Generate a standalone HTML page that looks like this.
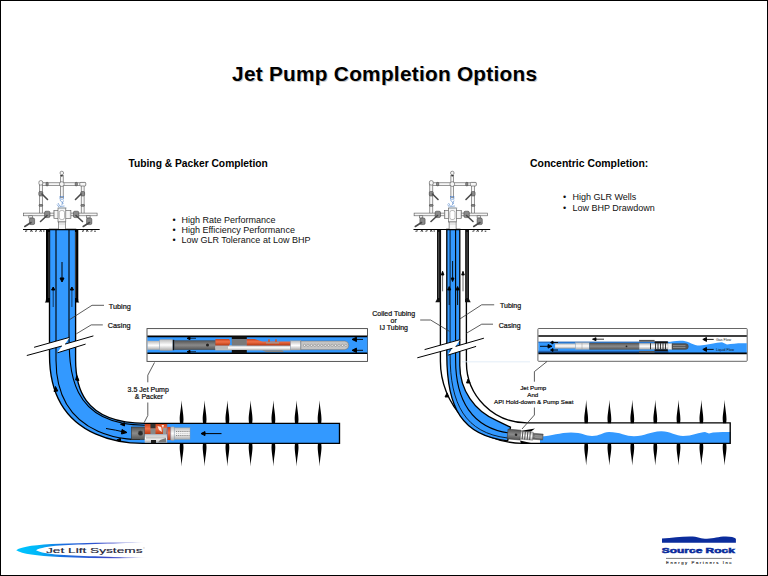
<!DOCTYPE html>
<html><head><meta charset="utf-8">
<style>
html,body{margin:0;padding:0;background:#fff;}
svg{display:block;}
text{font-family:"Liberation Sans",sans-serif;}
</style></head>
<body>
<svg width="768" height="576" viewBox="0 0 768 576">

<defs>
<linearGradient id="pipeV" x1="0" y1="0" x2="1" y2="0"><stop offset="0" stop-color="#bbb"/><stop offset="0.5" stop-color="#fff"/><stop offset="1" stop-color="#aaa"/></linearGradient>
<linearGradient id="pipeH" x1="0" y1="0" x2="0" y2="1"><stop offset="0" stop-color="#bbb"/><stop offset="0.5" stop-color="#fff"/><stop offset="1" stop-color="#aaa"/></linearGradient>
<linearGradient id="darkH" x1="0" y1="0" x2="0" y2="1"><stop offset="0" stop-color="#555"/><stop offset="0.5" stop-color="#8a8a8a"/><stop offset="1" stop-color="#555"/></linearGradient>
<linearGradient id="oraH" x1="0" y1="0" x2="0" y2="1"><stop offset="0" stop-color="#c8401a"/><stop offset="0.45" stop-color="#f07048"/><stop offset="1" stop-color="#b83810"/></linearGradient>
<g id="wellhead">
 <g fill="#f6f6f6" stroke="#555" stroke-width="0.6">
  <rect x="60.4" y="175.5" width="2.8" height="22"/>
  <circle cx="61.8" cy="173" r="1.8"/>
  <rect x="39.5" y="182.8" width="46" height="2.6"/>
  <circle cx="61.8" cy="184.1" r="2.4"/>
  <rect x="39.3" y="183" width="3" height="30.5"/>
  <rect x="81.2" y="184" width="2.9" height="29.5"/>
  <rect x="79.8" y="182.4" width="6" height="3.6" rx="1"/>
  <rect x="38.9" y="180.6" width="3.8" height="4.5" rx="1.6"/>
  <rect x="23.6" y="213.1" width="73.5" height="2.7"/>
  <rect x="53.9" y="210.6" width="17" height="7.8"/>
  <rect x="58" y="208" width="7.8" height="14"/>
  <rect x="58.6" y="222" width="7" height="7.3"/>
  <rect x="28.8" y="215.8" width="3.5" height="2.2"/>
  <rect x="86.6" y="215.8" width="3.5" height="2.2"/>
 </g>
 <path d="M54.5 211 v7 M70.3 211 v7 M58.6 224 h7" stroke="#999" stroke-width="0.4"/>
 <rect x="59.3" y="210.5" width="5.2" height="9" rx="2" fill="#fff" stroke="#777" stroke-width="0.5"/>
 <path d="M61 175.8 h1.6" stroke="#222" stroke-width="1.2"/>
 <g fill="#8a8a8a" stroke="#333" stroke-width="0.5">
  <rect x="46" y="182.4" width="2.2" height="3.4" rx="0.7"/>
  <rect x="75.2" y="182.4" width="2.2" height="3.4" rx="0.7"/>
  <rect x="38.8" y="191.5" width="4" height="4.5" rx="1.2"/>
  <rect x="80.8" y="191.5" width="3.8" height="4.5" rx="1.2"/>
  <rect x="39" y="204.5" width="3.6" height="1.8" rx="0.6"/>
  <rect x="80.9" y="204.5" width="3.5" height="1.8" rx="0.6"/>
  <rect x="44.6" y="211.2" width="5.4" height="6.4" rx="1.4"/>
  <rect x="73.4" y="211.2" width="5.4" height="6.4" rx="1.4"/>
  <rect x="29.4" y="218" width="5.2" height="6.6" rx="1.4"/>
  <rect x="86.6" y="218" width="5.2" height="6.6" rx="1.4"/>
 </g>
 <g stroke="#4a4a4a" stroke-width="1.6" stroke-linecap="round">
  <line x1="42" y1="194" x2="47.5" y2="199.5"/>
  <line x1="81" y1="194" x2="75.5" y2="199.5"/>
  <line x1="47" y1="215.5" x2="40.5" y2="221.5"/>
  <line x1="76" y1="215.5" x2="82.5" y2="221.5"/>
  <line x1="31" y1="222.5" x2="24.8" y2="226.5"/>
  <line x1="89.5" y1="222.5" x2="83.2" y2="226.5"/>
 </g>
 <g fill="none" stroke="#4a7fc8" stroke-width="0.6">
  <rect x="60" y="196.5" width="3.4" height="2.6"/>
  <path d="M60 200 L63 203.5 L61 205.5 M63.5 200.5 L62 204 M58 203 L60 206.5 L64.5 206 M57 204.5 L59 207.2"/>
 </g>
 <line x1="58.5" y1="208" x2="67" y2="208" stroke="#8ab" stroke-width="0.4"/>
 <line x1="23" y1="229.5" x2="99.7" y2="229.5" stroke="#000" stroke-width="1"/>
 <g stroke="#222" stroke-width="1">
  <path d="M25 231.3 l2.2 -0.5 M30.2 231.3 l1 -0.8 l1.4 0.8 M35 231.3 l2 -0.6 M39.5 231.3 l1.2 -0.8 l1.2 0.8 M43 231 h1.5"/>
  <path d="M82 231.3 l2 -0.6 M86 231.3 l1.2 -0.8 l1.2 0.8 M90.5 231.2 l2 -0.5 M94.2 231.2 h1.6"/>
 </g>
</g>
</defs>
<rect x="0.5" y="0.5" width="767" height="575" fill="#fff" stroke="#000" stroke-width="1"/>
<!-- title -->
<text x="233.1" y="81.8" font-size="20.8" font-weight="bold" fill="#999" opacity="0.55" textLength="305" lengthAdjust="spacing">Jet Pump Completion Options</text>
<text x="232.1" y="80.8" font-size="20.8" font-weight="bold" fill="#000" textLength="305" lengthAdjust="spacing">Jet Pump Completion Options</text>

<text x="128.5" y="167" font-size="10.25" font-weight="bold">Tubing &amp; Packer Completion</text>
<g font-size="9" fill="#111">
<text x="172.5" y="222.5">•</text><text x="181.5" y="222.5">High Rate Performance</text>
<text x="172.5" y="233">•</text><text x="181.5" y="233">High Efficiency Performance</text>
<text x="172.5" y="243.4">•</text><text x="181.5" y="243.4">Low GLR Tolerance at Low BHP</text>
</g>
<text x="530" y="166.7" font-size="10.45" font-weight="bold">Concentric Completion:</text>
<g font-size="9" fill="#111">
<text x="563" y="200.4">•</text><text x="572.5" y="200.4">High GLR Wells</text>
<text x="563" y="210.8">•</text><text x="572.5" y="210.8">Low BHP Drawdown</text>
</g>

<!-- LEFT WELL -->
<g id="leftwell">
<!-- blue casing pipe -->
<path d="M49.5 229.5 V355 C49.5 451 146 443.3 150 443.3 H339.5 V423.3 H145 C81 423.3 75.6 384 75.6 360 V229.5 Z" fill="#3399ff" stroke="#000" stroke-width="1.35"/>
<!-- tubing lines -->
<path d="M56 229.5 V360 C56 444 140 439.5 140 439.5" fill="none" stroke="#000" stroke-width="1.1"/>
<path d="M69 229.5 V330 C69 370 69 425.2 145 425.2" fill="none" stroke="#000" stroke-width="1.1"/>
<!-- surface casing thick walls -->
<rect x="46" y="229.5" width="3" height="71" fill="#000"/>
<rect x="75.8" y="229.5" width="2.5" height="71" fill="#000"/>
<rect x="48.6" y="232" width="0.7" height="66" fill="#666"/>
<rect x="75.4" y="232" width="0.7" height="66" fill="#666"/>
<path d="M45.9 299.5 Q45.9 302.6 43.9 302.6 L49.5 302.6 V299.5 Z" fill="#000"/>
<path d="M78.2 299.5 Q78.2 302.6 80.2 302.6 L75 302.6 V299.5 Z" fill="#000"/>
<!-- arrows -->
<g stroke="#000" stroke-width="1" fill="#000">
<line x1="62" y1="262" x2="62" y2="279"/><path d="M60 278 L64 278 L62 282 Z"/>
<line x1="53.2" y1="289" x2="53.2" y2="307" stroke="#123a66"/><path d="M51.6 290 L54.8 290 L53.2 287 Z"/>
<line x1="71.9" y1="289" x2="71.9" y2="307" stroke="#123a66"/><path d="M70.3 290 L73.5 290 L71.9 287 Z"/>
<path d="M106 428.5 Q116 430 124 432" fill="none"/><path d="M122 429.5 L127 432.5 L121.5 434 Z"/>
<path d="M124.5 422.6 L120.5 424.3 L124.5 426 Z"/><path d="M120.5 438.3 L116.8 440 L120.5 441.5 Z"/><path d="M76.8 375.5 L75.6 380 L79 380.5 Z"/><path d="M55.5 386.5 L54 391.5 L57.8 391 Z"/>
<line x1="204" y1="433.6" x2="221.5" y2="433.6"/><path d="M205 431.6 L205 435.6 L201 433.6 Z"/>
</g>
<!-- break symbol -->
<path d="M34.1 347.3 L69.7 337.3 L65.1 344.1 L93.4 335.9 L85.6 344.1 L57.4 352.8 L61.9 346 L26.8 355.5 Z" fill="#fff" stroke="none"/>
<g stroke="#000" stroke-width="1" fill="none">
<line x1="34.1" y1="347.3" x2="69.7" y2="337.3"/>
<line x1="65.1" y1="344.1" x2="93.4" y2="335.9"/>
<line x1="85.6" y1="344.1" x2="57.4" y2="352.8"/>
<line x1="61.9" y1="346" x2="26.8" y2="355.5"/>
</g>
</g>
<use href="#wellhead"/>
<!-- left spikes -->
<g fill="#000"><path d="M181.6 400.3 C182.1 409 183.5 414 183.5 419.5 L183.2 423.5 L180.0 423.5 L179.7 419.5 C179.7 414 181.1 409 181.6 400.3 Z"/><path d="M181.6 466.5 C182.1 457.5 183.5 452.5 183.5 447 L183.2 443.0 L180.0 443.0 L179.7 447 C179.7 452.5 181.1 457.5 181.6 466.5 Z"/><path d="M204.6 400.3 C205.1 409 206.5 414 206.5 419.5 L206.2 423.5 L203.0 423.5 L202.7 419.5 C202.7 414 204.1 409 204.6 400.3 Z"/><path d="M204.6 466.5 C205.1 457.5 206.5 452.5 206.5 447 L206.2 443.0 L203.0 443.0 L202.7 447 C202.7 452.5 204.1 457.5 204.6 466.5 Z"/><path d="M227.4 400.3 C227.9 409 229.3 414 229.3 419.5 L229.0 423.5 L225.8 423.5 L225.5 419.5 C225.5 414 226.9 409 227.4 400.3 Z"/><path d="M227.4 466.5 C227.9 457.5 229.3 452.5 229.3 447 L229.0 443.0 L225.8 443.0 L225.5 447 C225.5 452.5 226.9 457.5 227.4 466.5 Z"/><path d="M250.6 400.3 C251.1 409 252.5 414 252.5 419.5 L252.2 423.5 L249.0 423.5 L248.7 419.5 C248.7 414 250.1 409 250.6 400.3 Z"/><path d="M250.6 466.5 C251.1 457.5 252.5 452.5 252.5 447 L252.2 443.0 L249.0 443.0 L248.7 447 C248.7 452.5 250.1 457.5 250.6 466.5 Z"/><path d="M273.4 400.3 C273.9 409 275.3 414 275.3 419.5 L275.0 423.5 L271.8 423.5 L271.5 419.5 C271.5 414 272.9 409 273.4 400.3 Z"/><path d="M273.4 466.5 C273.9 457.5 275.3 452.5 275.3 447 L275.0 443.0 L271.8 443.0 L271.5 447 C271.5 452.5 272.9 457.5 273.4 466.5 Z"/><path d="M296.6 400.3 C297.1 409 298.5 414 298.5 419.5 L298.2 423.5 L295.0 423.5 L294.7 419.5 C294.7 414 296.1 409 296.6 400.3 Z"/><path d="M296.6 466.5 C297.1 457.5 298.5 452.5 298.5 447 L298.2 443.0 L295.0 443.0 L294.7 447 C294.7 452.5 296.1 457.5 296.6 466.5 Z"/><path d="M319.6 400.3 C320.1 409 321.5 414 321.5 419.5 L321.2 423.5 L318.0 423.5 L317.7 419.5 C317.7 414 319.1 409 319.6 400.3 Z"/><path d="M319.6 466.5 C320.1 457.5 321.5 452.5 321.5 447 L321.2 443.0 L318.0 443.0 L317.7 447 C317.7 452.5 319.1 457.5 319.6 466.5 Z"/></g>
<!-- left pump in hole -->
<g>
 <rect x="131.3" y="427" width="13.4" height="12.6" fill="url(#darkH)" stroke="#333" stroke-width="0.6"/>
 <circle cx="140.5" cy="433.2" r="2.4" fill="#2a2a2a" stroke="#555" stroke-width="0.5"/>
 <rect x="144.7" y="424" width="22.5" height="10.2" fill="url(#oraH)"/>
 <rect x="144.7" y="434.2" width="22.5" height="8.6" fill="url(#pipeH)"/>
 <rect x="146" y="436.5" width="20" height="2.2" fill="#c8c8c8"/>
 <rect x="150.5" y="424" width="5" height="4.5" fill="#333"/>
 <rect x="150.5" y="428.5" width="5" height="5.5" fill="#888"/>
 <rect x="151" y="440" width="5" height="3" fill="#1a1a1a"/>
 <path d="M157.5 426 L161 427 L162 432 L159 430 Z M161.5 425 L164 425 L163 428 Z" fill="#fff" opacity="0.85"/>
 <rect x="163" y="428" width="3.5" height="6" fill="#999"/>
 <path d="M160 440 L166 438 L166 442.5 L158 442.5 Z" fill="#777"/>
 <rect x="167.2" y="427" width="3.5" height="13" fill="url(#oraH)"/>
 <line x1="167.2" y1="424" x2="167.2" y2="443" stroke="#3a7fd0" stroke-width="0.4"/>
 <rect x="170.8" y="426.7" width="3.5" height="13.7" rx="1" fill="url(#pipeH)" stroke="#999" stroke-width="0.4"/>
 <rect x="174.3" y="427.8" width="15.7" height="11.6" fill="url(#pipeH)" stroke="#999" stroke-width="0.4"/>
 <path d="M176 431.5 h13.5 M176 435.5 h13.5" stroke="#888" stroke-width="1.1" stroke-dasharray="1.2 0.9"/>
 <path d="M176 433.5 h13.5" stroke="#aaa" stroke-width="0.7" stroke-dasharray="1.2 0.9"/>
</g>
<!-- left inset box -->
<g>
 <rect x="147" y="328.6" width="220.5" height="32.8" fill="#fff" stroke="#444" stroke-width="0.9"/>
 <rect x="147.4" y="336.4" width="220" height="16.8" fill="#3399ff"/>
 <line x1="147.4" y1="336.4" x2="367.2" y2="336.4" stroke="#000" stroke-width="1.6"/>
 <line x1="147.4" y1="353.3" x2="367.2" y2="353.3" stroke="#000" stroke-width="1.6"/>
 <rect x="147.5" y="341" width="12" height="8.7" fill="url(#pipeH)" stroke="#aaa" stroke-width="0.4"/>
 <rect x="159.5" y="339.5" width="13.3" height="11" rx="1" fill="url(#pipeH)" stroke="#999" stroke-width="0.4"/>
 <rect x="172.8" y="339.8" width="1.4" height="10.4" fill="#111"/>
 <rect x="174.2" y="340.6" width="41.6" height="9.1" fill="url(#darkH)" stroke="#444" stroke-width="0.4"/>
 <circle cx="207.5" cy="345.1" r="1.5" fill="#222"/>
 <rect x="215.4" y="345.3" width="75.2" height="4.9" fill="url(#pipeH)" stroke="#aaa" stroke-width="0.3"/>
 <rect x="216" y="346" width="12" height="3.6" fill="#bbb"/>
 <path d="M215.4 338.9 H229 Q231.5 342 229 345.4 H215.4 Z" fill="url(#oraH)"/>
 <rect x="231.8" y="336.4" width="15" height="2.8" fill="#111"/>
 <rect x="231.8" y="339.1" width="15" height="6.3" fill="#7a7a7a"/>
 <rect x="231.8" y="350" width="15" height="3.2" fill="#111"/>
 <path d="M246.7 338.9 L254.5 338.9 L262.3 341.5 L290.6 341.5 L290.6 345.4 L246.7 345.4 Z" fill="url(#oraH)"/>
 <rect x="268" y="339.3" width="2" height="4.5" fill="#c86040"/>
 <rect x="275" y="339.3" width="2" height="4.5" fill="#c86040"/>
 <rect x="266" y="342" width="13" height="1.6" fill="#999" opacity="0.8"/>
 <path d="M262 350.3 H282 L284 352 H266 Z" fill="#888"/>
 <rect x="290.6" y="340.8" width="10.2" height="9.2" fill="url(#pipeH)" stroke="#999" stroke-width="0.4"/>
 <path d="M300.8 341 H345 A4.4 4.4 0 0 1 345 349.7 H300.8 Z" fill="#c4c4c4" stroke="#666" stroke-width="0.5"/>
 <g fill="#fff" stroke="#666" stroke-width="0.45"><circle cx="304.50" cy="345.3" r="1.05"/><circle cx="307.95" cy="345.3" r="1.05"/><circle cx="311.40" cy="345.3" r="1.05"/><circle cx="314.85" cy="345.3" r="1.05"/><circle cx="318.30" cy="345.3" r="1.05"/><circle cx="321.75" cy="345.3" r="1.05"/><circle cx="325.20" cy="345.3" r="1.05"/><circle cx="328.65" cy="345.3" r="1.05"/><circle cx="332.10" cy="345.3" r="1.05"/><circle cx="335.55" cy="345.3" r="1.05"/><circle cx="339.00" cy="345.3" r="1.05"/><circle cx="342.45" cy="345.3" r="1.05"/><circle cx="345.90" cy="345.3" r="1.05"/></g>
 <g stroke="#000" stroke-width="0.9" fill="#000">
  <line x1="355" y1="339.4" x2="363" y2="339.4"/><path d="M356.5 337.2 L356.5 341.6 L352 339.4 Z"/>
  <line x1="355" y1="350.3" x2="363" y2="350.3"/><path d="M356.5 348.1 L356.5 352.5 L352 350.3 Z"/>
  <line x1="189" y1="338.3" x2="196" y2="338.3" stroke-width="0.7"/><path d="M190 336.9 L190 339.7 L187 338.3 Z"/>
  <line x1="189" y1="351.7" x2="196" y2="351.7" stroke-width="0.7"/><path d="M190 350.3 L190 353.1 L187 351.7 Z"/>
 </g>
</g>
<!-- left labels and leaders -->
<g stroke="#333" stroke-width="0.8" fill="none">
 <polyline points="69,320 92,305.3 104,305.3"/>
 <polyline points="76.4,333.8 91.2,324.9 102.8,324.9"/>
 <polyline points="144.1,422.7 147.8,415.5 147.8,402.5"/>
 <polyline points="147.8,382.3 147.8,375.2 154.5,362.5"/>
</g>
<g font-size="7" fill="#111" stroke="#111" stroke-width="0.22">
 <text x="108.8" y="308.9" font-size="7.3">Tubing</text>
 <text x="107.8" y="328.1" font-size="7.3">Casing</text>
 <text x="127.6" y="391.7">3.5 Jet Pump</text>
 <text x="134.8" y="399">&amp; Packer</text>
</g>



<!-- RIGHT WELL -->
<g id="rightwell">
 <!-- water in horizontal -->
 <path d="M540 436.5 C552 436 560 432.5 571 432.5 C582 432.5 586 436 592 436 C600 436 602 432.5 609 432 C620 432 626 436.3 634 436.3 C645 436 650 431.5 661 431.2 C670 431 676 436 683 436 C692 436 700 432 705 432 L709 433.5 L713 432.5 C720 432 726 432 730.6 432 L730.2 443.1 L540 443.1 Z" fill="#3399ff"/>
 <!-- casing lines -->
 <path d="M440.4 229.5 V361.3 A82 82 0 0 0 522.4 443.3 H730.2 V422.9 H527 A60.5 60.5 0 0 1 466.4 362.5 V229.5" fill="none" stroke="#000" stroke-width="1.35"/>
 <!-- blue tubing -->
 <path d="M446.8 229.5 V355 C446.8 408 462 436 507.7 440.8 L510.5 427.2 L497.3 420.8 A59.5 59.5 0 0 1 459.8 365 V229.5 Z" fill="#3399ff" stroke="#000" stroke-width="1.3"/>
 <path d="M455.6 229.5 V360 C455.6 400 472 428 509 433" fill="none" stroke="#000" stroke-width="1.1"/>
 <path d="M450.1 229.5 V355 C450.1 404 465 433 507.7 438" fill="none" stroke="#000" stroke-width="0.8"/>
 <!-- thick surface casing walls -->
 <rect x="437" y="229.5" width="4" height="72" fill="#111"/>
 <rect x="465.2" y="229.5" width="3.8" height="72" fill="#111"/>
 <rect x="438.2" y="232" width="1" height="66" fill="#555"/>
 <rect x="466.6" y="232" width="1" height="66" fill="#555"/>
 <path d="M437 299 L435.3 302.3 L441 302.3 L441 299 Z" fill="#111"/>
 <path d="M469 299 L470.7 302.3 L465 302.3 L465 299 Z" fill="#111"/>
 <!-- arrows -->
 <g stroke="#000" stroke-width="0.9" fill="#000">
  <line x1="452.6" y1="261" x2="452.6" y2="279"/><path d="M451.2 278 L454 278 L452.6 281.5 Z"/>
  <line x1="442.6" y1="274" x2="442.6" y2="291.3" stroke-width="0.8" stroke="#444"/><path d="M441.3 275 L443.9 275 L442.6 271.3 Z"/>
  <line x1="463" y1="274" x2="463" y2="291.3" stroke-width="0.8" stroke="#444"/><path d="M461.7 275 L464.3 275 L463 271.3 Z"/>
  <line x1="449.2" y1="290" x2="449.2" y2="305"/><path d="M447.6 290 L450.8 290 L449.2 286.5 Z"/>
  <line x1="457.6" y1="290" x2="457.6" y2="305"/><path d="M456 290 L459.2 290 L457.6 286.5 Z"/>
  <path d="M447 393 L445 397 L448.5 397 Z"/>
  <path d="M468 379 L466.5 383 L470 383 Z"/>
 </g>
 <!-- break -->
 <g transform="translate(390.5 2.3)">
 <path d="M34.1 347.3 L69.7 337.3 L65.1 344.1 L93.4 335.9 L85.6 344.1 L57.4 352.8 L61.9 346 L26.8 355.5 Z" fill="#fff" stroke="none"/>
 <g stroke="#000" stroke-width="1" fill="none">
 <line x1="34.1" y1="347.3" x2="69.7" y2="337.3"/>
 <line x1="65.1" y1="344.1" x2="93.4" y2="335.9"/>
 <line x1="85.6" y1="344.1" x2="57.4" y2="352.8"/>
 <line x1="61.9" y1="346" x2="26.8" y2="355.5"/>
 </g>
 </g>
 <!-- pump -->
 <path d="M520 431 L535 428.5 L531 431.5 L521 432.5 Z" fill="#000"/>
 <path d="M520 440.5 L532 443.3 L521 443.5 Z" fill="#000"/>
 <g transform="rotate(5 525 435.5)">
  <rect x="507.5" y="430.6" width="13" height="9.8" fill="url(#darkH)" stroke="#333" stroke-width="0.5"/>
  <circle cx="516" cy="435.5" r="1.3" fill="#222"/>
  <rect x="520.5" y="431.5" width="12.5" height="8" fill="url(#pipeH)" stroke="#555" stroke-width="0.4"/>
  <path d="M522.5 431.5 v8 M525 431.5 v8 M527.5 431.5 v8 M530 431.5 v8" stroke="#333" stroke-width="0.8"/>
  <rect x="533" y="432.5" width="10" height="6" fill="url(#darkH)" stroke="#444" stroke-width="0.4"/>
  <path d="M535 434.5 h7 M535 436.5 h7" stroke="#bbb" stroke-width="0.4"/>
 </g>
 <g fill="#000"><path d="M586.2 399.8 C586.7 409 588.1 414 588.1 419.5 L587.8 423.2 L584.6 423.2 L584.3 419.5 C584.3 414 585.7 409 586.2 399.8 Z"/><path d="M586.2 465.5 C586.7 457.5 588.1 452.5 588.1 447 L587.8 443.0 L584.6 443.0 L584.3 447 C584.3 452.5 585.7 457.5 586.2 465.5 Z"/><path d="M609.4 399.8 C609.9 409 611.3 414 611.3 419.5 L611.0 423.2 L607.8 423.2 L607.5 419.5 C607.5 414 608.9 409 609.4 399.8 Z"/><path d="M609.4 465.5 C609.9 457.5 611.3 452.5 611.3 447 L611.0 443.0 L607.8 443.0 L607.5 447 C607.5 452.5 608.9 457.5 609.4 465.5 Z"/><path d="M632.3 399.8 C632.8 409 634.2 414 634.2 419.5 L633.9 423.2 L630.7 423.2 L630.4 419.5 C630.4 414 631.8 409 632.3 399.8 Z"/><path d="M632.3 465.5 C632.8 457.5 634.2 452.5 634.2 447 L633.9 443.0 L630.7 443.0 L630.4 447 C630.4 452.5 631.8 457.5 632.3 465.5 Z"/><path d="M655.3 399.8 C655.8 409 657.2 414 657.2 419.5 L656.9 423.2 L653.7 423.2 L653.4 419.5 C653.4 414 654.8 409 655.3 399.8 Z"/><path d="M655.3 465.5 C655.8 457.5 657.2 452.5 657.2 447 L656.9 443.0 L653.7 443.0 L653.4 447 C653.4 452.5 654.8 457.5 655.3 465.5 Z"/><path d="M678.5 399.8 C679.0 409 680.4 414 680.4 419.5 L680.1 423.2 L676.9 423.2 L676.6 419.5 C676.6 414 678.0 409 678.5 399.8 Z"/><path d="M678.5 465.5 C679.0 457.5 680.4 452.5 680.4 447 L680.1 443.0 L676.9 443.0 L676.6 447 C676.6 452.5 678.0 457.5 678.5 465.5 Z"/><path d="M701.4 399.8 C701.9 409 703.3 414 703.3 419.5 L703.0 423.2 L699.8 423.2 L699.5 419.5 C699.5 414 700.9 409 701.4 399.8 Z"/><path d="M701.4 465.5 C701.9 457.5 703.3 452.5 703.3 447 L703.0 443.0 L699.8 443.0 L699.5 447 C699.5 452.5 700.9 457.5 701.4 465.5 Z"/><path d="M724.6 399.8 C725.1 409 726.5 414 726.5 419.5 L726.2 423.2 L723.0 423.2 L722.7 419.5 C722.7 414 724.1 409 724.6 399.8 Z"/><path d="M724.6 465.5 C725.1 457.5 726.5 452.5 726.5 447 L726.2 443.0 L723.0 443.0 L722.7 447 C722.7 452.5 724.1 457.5 724.6 465.5 Z"/></g>
</g>
<use href="#wellhead" transform="translate(390.5 0)"/>
<!-- right inset box -->
<g>
 <rect x="537.9" y="328.5" width="209.3" height="32.8" rx="0.8" fill="#fff" stroke="#555" stroke-width="0.9"/>
 <path d="M538.4 342 H668 C672 341.5 677 340.3 683 340.8 C689 341.6 694 345.8 700 345.6 C708 345 716 342.5 722 342.3 L727 344.5 C732 343.8 738 343 746.8 343.3 V353.3 H538.4 Z" fill="#3399ff"/>
 <rect x="538.4" y="341.6" width="130" height="1" fill="#1f5fb0"/>
 <rect x="538.4" y="350.8" width="130" height="2" fill="#1f5fb0"/>
 <line x1="538.4" y1="336" x2="746.8" y2="336" stroke="#000" stroke-width="1.7"/>
 <line x1="538.4" y1="353.4" x2="746.8" y2="353.4" stroke="#000" stroke-width="1.7"/>
 <rect x="555" y="343.6" width="20.5" height="4.8" fill="url(#pipeH)" stroke="#999" stroke-width="0.3"/>
 <rect x="575.6" y="342.6" width="13.6" height="6.8" fill="url(#pipeH)" stroke="#aaa" stroke-width="0.3"/>
 <line x1="582" y1="342.6" x2="582" y2="349.4" stroke="#999" stroke-width="0.5"/>
 <rect x="589.5" y="343" width="50" height="6.5" fill="url(#darkH)" stroke="#555" stroke-width="0.3"/>
 <circle cx="626.5" cy="346.3" r="0.9" fill="#222"/>
 <rect x="639.1" y="343.2" width="29" height="6.1" fill="url(#pipeH)" stroke="#888" stroke-width="0.3"/>
 <rect x="639.1" y="339.9" width="15.5" height="1.8" fill="#555"/>
 <rect x="639.1" y="351" width="15.5" height="1.8" fill="#555"/>
 <rect x="654.6" y="341.3" width="13.2" height="2" fill="#111"/>
 <rect x="654.6" y="349.3" width="13.2" height="1.9" fill="#111"/>
 <path d="M650.5 343.2 v6.1 M655.5 343.2 v6.1 M658 343.2 v6.1 M660.5 343.2 v6.1 M663 343.2 v6.1 M665.5 343.2 v6.1" stroke="#222" stroke-width="0.9"/>
 <rect x="668" y="343.5" width="4" height="6" fill="#f4f4f4" stroke="#999" stroke-width="0.3"/>
 <path d="M672 343.6 H685.5 A2.9 2.9 0 0 1 685.5 349.4 H672 Z" fill="#555" stroke="#333" stroke-width="0.3"/>
 <path d="M673 345.6 h12.5 M673 347.5 h12.5" stroke="#bbb" stroke-width="0.5"/>
 <g stroke="#000" stroke-width="0.9" fill="#000">
  <line x1="540" y1="346.3" x2="549" y2="346.3"/><path d="M548 344.5 L552 346.3 L548 348.1 Z"/>
  <path d="M552 342.5 h6 M552 350 h6"/><path d="M553 341 L553 344 L550.5 342.5 Z"/><path d="M553 348.5 L553 351.5 L550.5 350 Z"/>
  <line x1="595" y1="339.2" x2="604" y2="339.2" stroke-width="0.8"/><path d="M596 337.7 L596 340.7 L592.5 339.2 Z"/>
  <line x1="706" y1="339.4" x2="713.7" y2="339.4"/><path d="M706.5 337.4 L706.5 341.4 L702.8 339.4 Z"/>
  <line x1="706" y1="349.4" x2="713.7" y2="349.4"/><path d="M706.5 347.4 L706.5 351.4 L702.8 349.4 Z"/>
 </g>
 <text x="716" y="341" font-size="3.6" fill="#222">Gas Flow</text>
 <text x="716" y="351" font-size="3.6" fill="#111">Liquid Flow</text>
</g>
<!-- right labels -->
<g stroke="#333" stroke-width="0.8" fill="none">
 <polyline points="420.2,320 430.6,320 449.5,331.4"/>
 <polyline points="494.2,304.8 481.7,304.8 459.8,319"/>
 <polyline points="493,324.2 481.7,324.2 466,333.5"/>
 <polyline points="547,361.5 534.4,371.6 534.4,381.7"/>
 <polyline points="534.4,407.5 534.4,415 522,429"/>
 <line x1="462" y1="361.8" x2="530" y2="361.8" stroke="#dce8f6" stroke-width="0.8"/>
</g>
<g font-size="7" fill="#111" stroke="#111" stroke-width="0.22">
 <text x="372.3" y="315.8">Coiled Tubing</text>
 <text x="390.5" y="322.5">or</text>
 <text x="379.6" y="330.4">IJ Tubing</text>
 <text x="500" y="307.9">Tubing</text>
 <text x="498.8" y="327.9">Casing</text>
</g>
<g font-size="6.2" fill="#111" stroke="#111" stroke-width="0.2" text-anchor="middle">
 <text x="533.2" y="390.3">Jet Pump</text>
 <text x="532.8" y="396.6">And</text>
 <text x="533.8" y="404">API Hold-down &amp; Pump Seat</text>
</g>

<!-- logos -->
<defs>
 <linearGradient id="swoosh" x1="16" y1="0" x2="150" y2="0" gradientUnits="userSpaceOnUse">
  <stop offset="0" stop-color="#00c4ff"/><stop offset="0.16" stop-color="#00b8f8"/><stop offset="0.35" stop-color="#1a6ee0"/><stop offset="0.7" stop-color="#3c48c8"/><stop offset="1" stop-color="#ffffff"/>
 </linearGradient>
</defs>
<path d="M16.2 550.2 C22 546.5 36 544.6 60 543.8 C90 542.8 120 542.3 150 542.6 C120 543.2 80 544.4 60 545.6 C48 546.4 40 548 36 550.2 C40 552.4 48 553.9 60 554.8 C80 556.2 120 557.2 150 557.8 C120 558.5 90 558.2 60 556.9 C36 555.8 22 554 16.2 550.2 Z" fill="url(#swoosh)"/>
<text x="46" y="552.6" font-size="6.6" fill="#1b1b35" stroke="#1b1b35" stroke-width="0.12" textLength="96.5" lengthAdjust="spacingAndGlyphs">Jet Lift Systems</text>
<text x="143" y="548.5" font-size="2.5" fill="#333">®</text>
<path d="M662 538.4 C672 538 680 536.4 690 536.4 C698 536.4 701 538.8 707 538.8 C714 538.8 718 536.6 726 536.6 C731 536.6 734 537.5 735.9 538.8 L735.9 542.7 L662 542.7 Z" fill="#0b2c9c"/>
<text x="661.8" y="552.9" font-size="7.9" font-weight="bold" fill="#0b2c9c" stroke="#0b2c9c" stroke-width="0.55" textLength="73" lengthAdjust="spacingAndGlyphs">Source Rock</text>
<line x1="666" y1="558.4" x2="731.8" y2="558.4" stroke="#444" stroke-width="0.7"/>
<text x="666" y="563.6" font-size="4.3" fill="#222" stroke="#222" stroke-width="0.14" textLength="65.5" lengthAdjust="spacing">Energy Partners Inc</text>
</svg>
</body></html>
